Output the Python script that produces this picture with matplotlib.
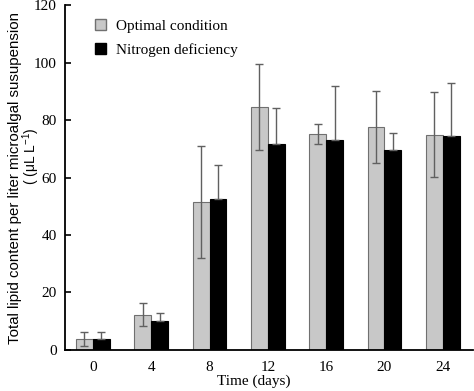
import matplotlib
matplotlib.use("Agg")
import matplotlib.pyplot as plt
from matplotlib.patches import Patch
import numpy as np

days = ["0", "4", "8", "12", "16", "20", "24"]
optimal = [3.8, 12.2, 51.6, 84.4, 75.1, 77.6, 74.9]
optimal_err = [2.3, 4.0, 19.5, 15.0, 3.5, 12.5, 14.8]
nitrogen = [3.8, 10.2, 52.5, 71.8, 73.0, 69.4, 74.5]
nitrogen_err = [2.3, 2.5, 12.0, 12.5, 19.0, 6.2, 18.5]

serif = "Liberation Serif"
plt.rcParams["mathtext.fontset"] = "custom"
plt.rcParams["mathtext.rm"] = "Liberation Sans"

fig = plt.figure(figsize=(4.74, 3.91), dpi=100)
ax = fig.add_axes([0.137, 0.105, 0.861, 0.882])

x = np.arange(len(days))
w = 0.29
ax.bar(x - w / 2, optimal, w, color="#c8c8c8", edgecolor="#707070", linewidth=0.8)
ax.bar(x + w / 2, nitrogen, w, color="black", edgecolor="black", linewidth=0.8)
ax.errorbar(x - w / 2, optimal, yerr=optimal_err, fmt="none", ecolor="#606060",
            elinewidth=1, capsize=3, capthick=1)
# lower half of the black bars' error bars disappears into the bar
ax.errorbar(x + w / 2, nitrogen, yerr=[np.zeros(len(days)), nitrogen_err], fmt="none",
            ecolor="#606060", elinewidth=1, capsize=3, capthick=1)

ax.set_xlim(-0.48, 6.52)
ax.set_ylim(0, 120)
ax.set_xticks(x)
ax.set_xticklabels(days, fontfamily=serif, fontsize=11)
ax.set_yticks([0, 20, 40, 60, 80, 100, 120])
ax.set_yticklabels(["0", "20", "40", "60", "80", "100", "120"], fontfamily=serif, fontsize=11)
ax.tick_params(axis="x", length=0, pad=8)
ax.tick_params(axis="y", direction="in", length=4, width=1.2, pad=6)
ax.spines["top"].set_visible(False)
ax.spines["right"].set_visible(False)
ax.spines["left"].set_linewidth(1.3)
ax.spines["bottom"].set_linewidth(1.3)

ax.set_xlabel("Time (days)", fontfamily=serif, fontsize=11)
ax.xaxis.set_label_coords(0.463, -0.07)

fig.text(0.032, 0.545, "Total lipid content per liter microalgal susupension",
         rotation=90, ha="center", va="center", fontfamily="Liberation Sans", fontsize=10.8)
fig.text(0.066, 0.6, "( (μL L$^{-1}$)", rotation=90, ha="center", va="center",
         fontfamily="Liberation Sans", fontsize=10)

handles = [Patch(facecolor="#c8c8c8", edgecolor="#707070", label="Optimal condition"),
           Patch(facecolor="black", edgecolor="black", label="Nitrogen deficiency")]
ax.legend(handles=handles, loc="upper left", bbox_to_anchor=(0.04, 1.0), frameon=False,
          prop={"family": serif, "size": 11}, handlelength=0.7, handleheight=0.7,
          handletextpad=0.7, labelspacing=0.7)

fig.savefig("out.png", dpi=100)
